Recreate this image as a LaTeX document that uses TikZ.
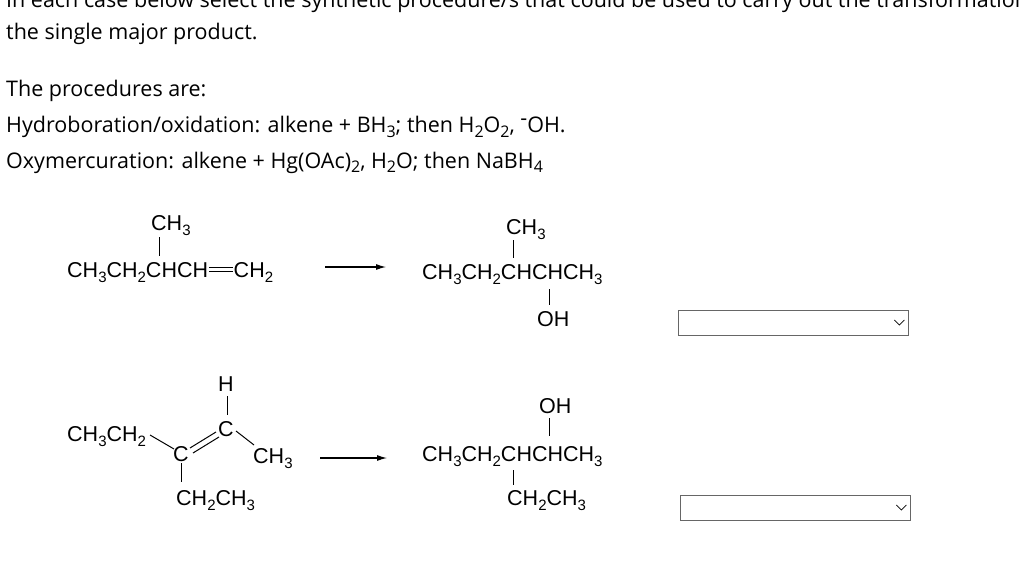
\documentclass[tikz,border=0pt]{standalone}
\usetikzlibrary{arrows.meta,calc}
\usepackage{fontspec}
\setmainfont{Open Sans}
\newfontfamily\chem{Liberation Sans}
\newcommand\ssb[1]{\raisebox{-0.25em}{\fontsize{15}{15}\selectfont #1}}
\newcommand\tsb[1]{\raisebox{-0.22em}{\fontsize{16}{16}\selectfont #1}}
\newcommand\dbl{\kern1pt\rlap{\raisebox{0.42em}{\rule{1.1em}{0.8pt}}}\raisebox{0.22em}{\rule{1.1em}{0.8pt}}\kern1pt}
\begin{document}
\begin{tikzpicture}[x=1pt,y=-1pt,
  txt/.style={anchor=base west,inner sep=0,font=\fontsize{21.5}{21.5}\selectfont},
  ch/.style={anchor=base west,inner sep=0,font=\chem\fontsize{21.5}{21.5}\selectfont},
  bond/.style={line width=1pt},
  rxn/.style={line width=1.1pt,-{Latex[length=10pt,width=6pt]}},
  dd/.style={draw=black!60,line width=0.8pt,fill=white,minimum width=230pt,minimum height=25pt,inner sep=0}]
\clip (0,0) rectangle (1024,564);
\fill[white] (0,0) rectangle (1024,564);
\node[txt] (t0) at (6,8) {In each case below select the synthetic procedure/s that could be used to carry out the transformation};
\node[txt] (t1) at (6,40) {the single major product.};
\node[txt] (t2) at (6,97) {The procedures are:};
\node[txt] (t3) at (6,133) {Hydroboration/oxidation: alkene + BH\tsb{3}; then H\tsb{2}O\tsb{2}, \raisebox{0.35em}{-}OH.};
\node[txt] (t4) at (6,168) {Oxymercuration: alkene + Hg(OAc)\tsb{2}, H\tsb{2}O; then NaBH\tsb{4}};
% reaction 1
\node[ch] (a1) at (151,230) {CH\ssb{3}};
\node[ch] (a2) at (67,277) {CH\ssb{3}CH\ssb{2}CHCH\dbl CH\ssb{2}};
\draw[bond] (159,237) -- (159,256);
\node (r1s) at (325,267) {}; \node (r1e) at (386,267) {};
\draw[rxn] (r1s.center) -- (r1e.center);
\node[ch] (p1) at (506,234) {CH\ssb{3}};
\node[ch] (p2) at (422,279) {CH\ssb{3}CH\ssb{2}CHCHCH\ssb{3}};
\node[ch] (p3) at (537,326) {OH};
\draw[bond] (513,240) -- (513,258);
\draw[bond] (549,289) -- (549,305);
\node[dd] (d1) at (793,323) {}; 
\draw[line width=0.8pt] ($(d1.east)+(-14,-3)$) -- ++(5,5) -- ++(5,-5);
% reaction 2
\node[ch] (b0) at (218,391) {H};
\draw[bond] (227,396) -- (227,415);
\node[ch] (b1) at (218,436) {C};
\node[ch] (b2) at (67,441) {CH\ssb{3}CH\ssb{2}};
\node[ch] (b3) at (173,461) {C};
\node[ch] (b4) at (253,463) {CH\ssb{3}};
\node[ch] (b5) at (176,505) {CH\ssb{2}CH\ssb{3}};
\draw[bond] (150,435) -- (174,449);
\draw[bond] (190,448) -- (216,432);
\draw[bond] (193,453) -- (219,437);
\draw[bond] (236,431) -- (254,445);
\draw[bond] (181,463) -- (181,482);
\node (r2s) at (320,458) {}; \node (r2e) at (387,458) {};
\draw[rxn] (r2s.center) -- (r2e.center);
\node[ch] (q0) at (539,413) {OH};
\draw[bond] (549,418) -- (549,436);
\node[ch] (q1) at (422,461) {CH\ssb{3}CH\ssb{2}CHCHCH\ssb{3}};
\draw[bond] (513,470) -- (513,485);
\node[ch] (q2) at (507,505) {CH\ssb{2}CH\ssb{3}};
\node[dd] (d2) at (795,508) {};
\draw[line width=0.8pt] ($(d2.east)+(-14,-3)$) -- ++(5,5) -- ++(5,-5);
\end{tikzpicture}
\end{document}
